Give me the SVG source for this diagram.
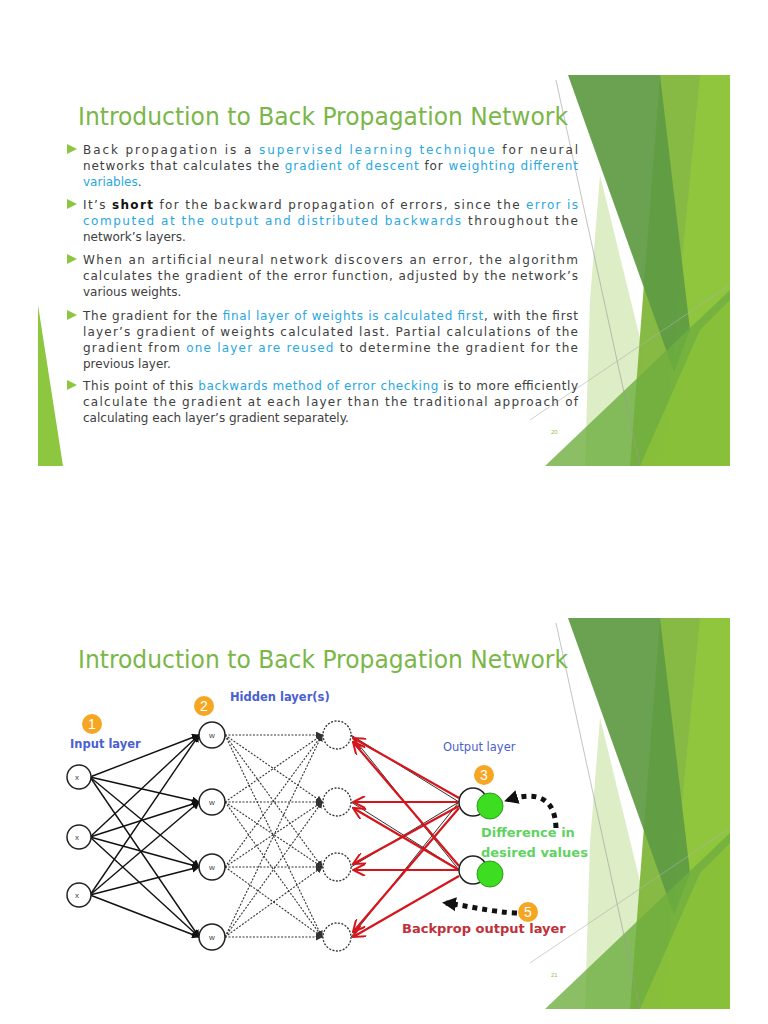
<svg xmlns="http://www.w3.org/2000/svg" xmlns:xlink="http://www.w3.org/1999/xlink" width="768" height="1024" viewBox="0 0 768 1024">
<style>
.t{font-family:"DejaVu Sans",sans-serif;font-size:24px;fill:#7ab648}
.b{font-family:"DejaVu Sans",sans-serif;font-size:12px;fill:#404040}
.h{fill:#29a8e0}
.k{fill:#111;font-weight:bold}
.lb{font-family:"DejaVu Sans",sans-serif;font-size:11.5px;font-weight:bold;fill:#4a5fd0}
.badge{fill:#f5a623}
.bn{font-family:"Liberation Sans",sans-serif;font-size:14px;fill:#fff;text-anchor:middle}
.n{fill:#fff;stroke:#222;stroke-width:1.5}
.nd{fill:#fff;stroke:#333;stroke-width:1.3;stroke-dasharray:2 1.5}
.w{font-family:"Liberation Sans",sans-serif;font-size:8px;fill:#444;text-anchor:middle}
.fw{stroke:#111;stroke-width:1.4;fill:none}
.dt{stroke:#333;stroke-width:1.1;stroke-dasharray:2 1.5;fill:none}
.rd{stroke:#d4161c;stroke-width:2.2;fill:none}
.thin{stroke:#333;stroke-width:1;fill:none}
.pn{font-family:"Liberation Sans",sans-serif;font-size:6px;fill:#8dc63f}
</style>
<defs>
<marker id="ab" markerWidth="8" markerHeight="8" refX="7" refY="4" orient="auto" markerUnits="userSpaceOnUse"><path d="M0,0 L8,4 L0,8 z" fill="#111"/></marker>
<marker id="ad" markerWidth="7" markerHeight="7" refX="6" refY="3.5" orient="auto" markerUnits="userSpaceOnUse"><path d="M0,0 L7,3.5 L0,7 z" fill="#333"/></marker>
<marker id="ar" markerWidth="14" markerHeight="12" refX="1" refY="6" orient="auto" markerUnits="userSpaceOnUse"><path d="M13,0 L1,6 L13,12" fill="none" stroke="#d4161c" stroke-width="2"/></marker>
<marker id="ak" markerWidth="14" markerHeight="14" refX="10" refY="7" orient="auto" markerUnits="userSpaceOnUse"><path d="M0,0 L14,7 L0,14 z" fill="#111"/></marker>
<g id="deco">
<polygon points="600,175 660,420 640,466 585,466 590,300" fill="#d4e8b6" opacity="0.8"/>
<polygon points="660,75 730,75 730,466 630,466" fill="#7fb63a" opacity="0.95"/>
<polygon points="700,75 730,75 730,466 662,466" fill="#8fc63d"/>
<polygon points="568,75 660,75 690,330 674,372" fill="#5e9a42" opacity="0.92"/>
<polygon points="545,466 730,290 730,466" fill="#6eae3e" opacity="0.8"/>
<polygon points="640,466 700,330 730,300 730,466" fill="#8cc23a" opacity="0.85"/>
<line x1="556" y1="80" x2="640" y2="466" stroke="#9a9a9a" stroke-width="0.6"/>
<line x1="530" y1="420" x2="730" y2="285" stroke="#b0b0b0" stroke-width="0.6"/>
</g>
</defs>

<g id="slide1">
<use xlink:href="#deco"/>
<polygon points="38,305 38,466 63,466" fill="#8dc63f"/>
<text class="t" x="78" y="125" textLength="490" lengthAdjust="spacingAndGlyphs">Introduction to Back Propagation Network</text>
<g fill="#8dc63f">
<polygon points="67,144 77,149 67,154"/><polygon points="67,199 77,204 67,209"/><polygon points="67,254 77,259 67,264"/><polygon points="67,310 77,315 67,320"/><polygon points="67,380 77,385 67,390"/>
</g>
<text class="b" x="83" y="154" textLength="495" lengthAdjust="spacing">Back propagation is a <tspan class="h">supervised learning technique</tspan> for neural</text>
<text class="b" x="83" y="170" textLength="495" lengthAdjust="spacing">networks that calculates the <tspan class="h">gradient of descent</tspan> for <tspan class="h">weighting different</tspan></text>
<text class="b" x="83" y="186"><tspan class="h">variables</tspan>.</text>
<text class="b" x="83" y="209" textLength="495" lengthAdjust="spacing">It’s <tspan class="k">short</tspan> for the backward propagation of errors, since the <tspan class="h">error is</tspan></text>
<text class="b" x="83" y="225" textLength="495" lengthAdjust="spacing"><tspan class="h">computed at the output and distributed backwards</tspan> throughout the</text>
<text class="b" x="83" y="241">network’s layers.</text>
<text class="b" x="83" y="264" textLength="495" lengthAdjust="spacing">When an artificial neural network discovers an error, the algorithm</text>
<text class="b" x="83" y="280" textLength="495" lengthAdjust="spacing">calculates the gradient of the error function, adjusted by the network’s</text>
<text class="b" x="83" y="296">various weights.</text>
<text class="b" x="83" y="320" textLength="495" lengthAdjust="spacing">The gradient for the <tspan class="h">final layer of weights is calculated first</tspan>, with the first</text>
<text class="b" x="83" y="336" textLength="495" lengthAdjust="spacing">layer’s gradient of weights calculated last. Partial calculations of the</text>
<text class="b" x="83" y="352" textLength="495" lengthAdjust="spacing">gradient from <tspan class="h">one layer are reused</tspan> to determine the gradient for the</text>
<text class="b" x="83" y="368">previous layer.</text>
<text class="b" x="83" y="390" textLength="495" lengthAdjust="spacing">This point of this <tspan class="h">backwards method of error checking</tspan> is to more efficiently</text>
<text class="b" x="83" y="406" textLength="495" lengthAdjust="spacing">calculate the gradient at each layer than the traditional approach of</text>
<text class="b" x="83" y="422">calculating each layer’s gradient separately.</text>
<text class="pn" x="551" y="434">20</text>
</g>

<g id="slide2">
<use xlink:href="#deco" transform="translate(0,543)"/>
<text class="t" x="78" y="668" textLength="490" lengthAdjust="spacingAndGlyphs">Introduction to Back Propagation Network</text>
<text class="pn" x="551" y="977">21</text>
</g>

<g id="connectors">
<g class="fw" marker-end="url(#ab)">
<line x1="90" y1="777" x2="199" y2="735"/><line x1="90" y1="777" x2="199" y2="802"/><line x1="90" y1="777" x2="199" y2="867"/><line x1="90" y1="777" x2="199" y2="937"/>
<line x1="90" y1="837" x2="199" y2="735"/><line x1="90" y1="837" x2="199" y2="802"/><line x1="90" y1="837" x2="199" y2="867"/><line x1="90" y1="837" x2="199" y2="937"/>
<line x1="90" y1="895" x2="199" y2="735"/><line x1="90" y1="895" x2="199" y2="802"/><line x1="90" y1="895" x2="199" y2="867"/><line x1="90" y1="895" x2="199" y2="937"/>
</g>
<g class="dt" marker-end="url(#ad)">
<line x1="225" y1="735" x2="322" y2="735"/><line x1="225" y1="735" x2="322" y2="802"/><line x1="225" y1="735" x2="322" y2="867"/><line x1="225" y1="735" x2="322" y2="937"/>
<line x1="225" y1="802" x2="322" y2="735"/><line x1="225" y1="802" x2="322" y2="802"/><line x1="225" y1="802" x2="322" y2="867"/><line x1="225" y1="802" x2="322" y2="937"/>
<line x1="225" y1="867" x2="322" y2="735"/><line x1="225" y1="867" x2="322" y2="802"/><line x1="225" y1="867" x2="322" y2="867"/><line x1="225" y1="867" x2="322" y2="937"/>
<line x1="225" y1="937" x2="322" y2="735"/><line x1="225" y1="937" x2="322" y2="802"/><line x1="225" y1="937" x2="322" y2="867"/><line x1="225" y1="937" x2="322" y2="937"/>
</g>
<g class="thin">
<line x1="351" y1="735" x2="459" y2="802"/><line x1="351" y1="735" x2="459" y2="870"/><line x1="351" y1="802" x2="459" y2="870"/><line x1="351" y1="937" x2="459" y2="802"/><line x1="351" y1="867" x2="459" y2="802"/>
</g>
<g class="rd" marker-start="url(#ar)">
<line x1="353" y1="738" x2="459" y2="798"/><line x1="353" y1="742" x2="459" y2="866"/>
<line x1="353" y1="802" x2="459" y2="802"/><line x1="353" y1="808" x2="459" y2="870"/>
<line x1="353" y1="864" x2="459" y2="806"/><line x1="353" y1="870" x2="459" y2="870"/>
<line x1="353" y1="932" x2="459" y2="808"/><line x1="353" y1="937" x2="459" y2="876"/>
</g>
<path d="M556,828 C555,800 540,790 508,800" stroke="#111" stroke-width="5" stroke-dasharray="5 5" fill="none" marker-end="url(#ak)"/>
<path d="M517,913 C490,912 470,906 446,903" stroke="#111" stroke-width="5" stroke-dasharray="5 5" fill="none" marker-end="url(#ak)"/>
</g>

<g id="input-nodes">
<circle class="n" cx="79" cy="777" r="12"/><text class="w" x="77" y="780">x</text>
<circle class="n" cx="79" cy="837" r="12"/><text class="w" x="77" y="840">x</text>
<circle class="n" cx="79" cy="895" r="12"/><text class="w" x="77" y="898">x</text>
</g>
<g id="hidden1">
<circle class="n" cx="212" cy="735" r="13"/><text class="w" x="212" y="738">w</text>
<circle class="n" cx="212" cy="802" r="13"/><text class="w" x="212" y="805">w</text>
<circle class="n" cx="212" cy="867" r="13"/><text class="w" x="212" y="870">w</text>
<circle class="n" cx="212" cy="937" r="13"/><text class="w" x="212" y="940">w</text>
</g>
<g id="hidden2">
<circle class="nd" cx="337" cy="735" r="14"/><circle class="nd" cx="337" cy="802" r="14"/><circle class="nd" cx="337" cy="867" r="14"/><circle class="nd" cx="337" cy="937" r="14"/>
</g>
<g id="output">
<circle class="n" cx="473" cy="802" r="14"/><circle cx="490" cy="806" r="13" fill="#3dde22" stroke="#2a9a1a"/>
<circle class="n" cx="473" cy="870" r="14"/><circle cx="490" cy="874" r="13" fill="#3dde22" stroke="#2a9a1a"/>
</g>
<g id="labels">
<text class="lb" x="70" y="748">Input layer</text>
<text class="lb" x="230" y="701">Hidden layer(s)</text>
<text class="lb" x="443" y="751" style="font-weight:normal">Output layer</text>
<circle class="badge" cx="92" cy="724" r="10"/><text class="bn" x="92" y="729">1</text>
<circle class="badge" cx="204" cy="706" r="10"/><text class="bn" x="204" y="711">2</text>
<circle class="badge" cx="484" cy="775" r="10"/><text class="bn" x="484" y="780">3</text>
<circle class="badge" cx="528" cy="912" r="10"/><text class="bn" x="528" y="917">5</text>
<text x="481" y="837" style="font-family:'DejaVu Sans',sans-serif;font-size:13px;font-weight:bold;fill:#5fd35f">Difference in</text>
<text x="481" y="857" style="font-family:'DejaVu Sans',sans-serif;font-size:13px;font-weight:bold;fill:#5fd35f">desired values</text>
<text x="402" y="933" style="font-family:'DejaVu Sans',sans-serif;font-size:13px;font-weight:bold;fill:#c0303a">Backprop output layer</text>
</g>
</svg>
